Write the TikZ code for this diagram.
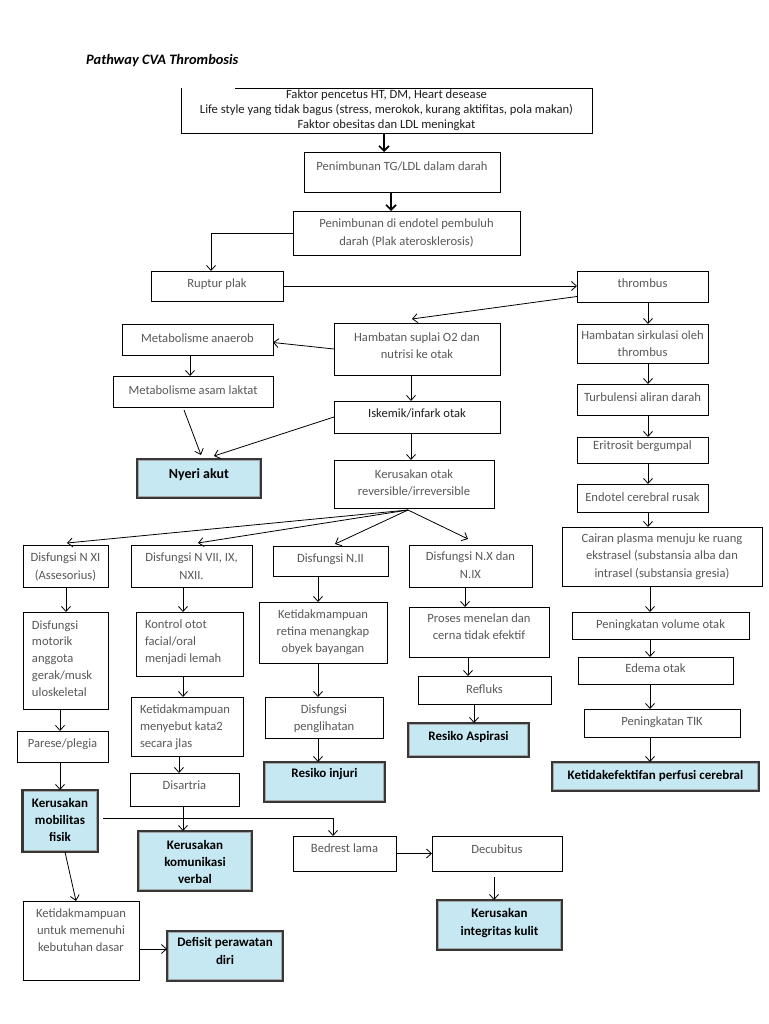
\documentclass[tikz,border=0pt]{standalone}
\usepackage{fontspec}
\setmainfont{Carlito}
\usetikzlibrary{arrows.meta,calc}
\definecolor{txtgray}{RGB}{89,89,89}
\definecolor{txtdark}{RGB}{30,30,30}
\definecolor{bluefill}{RGB}{198,232,242}
\definecolor{blueedge}{RGB}{55,55,55}
\def\boxalign{\centering}
\def\bfs{12.6}
\tikzset{
  boxbase/.style={rectangle, inner sep=0pt, outer sep=0pt, draw=black, line width=0.8pt, fill=white, text=txtgray},
  bluebox/.style={boxbase, fill=bluefill, draw=blueedge, line width=1.6pt, text=black, font=\bfseries,
    execute at begin node={\def\bfs{13}},
    path picture={\draw[black!35, line width=1.2pt] ([shift={(1.6pt,-1.6pt)}]path picture bounding box.north west) rectangle ([shift={(-1.6pt,1.6pt)}]path picture bounding box.south east);}},
  bigbold/.style={bluebox, execute at begin node={\def\bfs{14}}},
  leftal/.style={execute at begin node={\def\boxalign{\raggedright\leftskip=9pt\relax}}},
  nodraw/.style={draw=none},
  arr/.style={draw=black, line width=0.8pt, -{Straight Barb[length=5pt,width=9pt]}},
  bigarr/.style={draw=black, line width=2pt, -{Straight Barb[length=5pt,width=10pt,line width=1.6pt]}}
}
% opts, name, x1, y1, x2, y2, first baseline, baselineskip, text
\newcommand{\mybox}[9][]{%
  \pgfmathsetmacro\bw{#5-#3}%
  \pgfmathsetmacro\bh{#6-#4}%
  \pgfmathsetmacro\bpad{#7-#4-0.7*#8}%
  \node[boxbase,#1] (#2) at ({(#3+#5)/2},{(#4+#6)/2}) {\begin{minipage}[c][\bh pt][t]{\bw pt}\fontsize{\bfs}{#8}\selectfont\vspace*{\bpad pt}\boxalign\strut #9\end{minipage}};}
\begin{document}
\begin{tikzpicture}[x=1pt,y=-1pt]
\useasboundingbox (0,0) rectangle (768,1024);
\fill[white] (0,0) rectangle (768,1024);

\node[font=\fontsize{14.4}{17}\selectfont\bfseries\itshape, anchor=base west, inner sep=0pt] (title) at (86,65) {Pathway CVA Thrombosis};

\mybox[nodraw,text=txtdark]{fk}{181}{88}{592}{133}{99}{15}{Faktor pencetus HT, DM, Heart desease\\Life style yang tidak bagus (stress, merokok, kurang aktifitas, pola makan)\\Faktor obesitas dan LDL meningkat}
\draw[line width=0.8pt] ([xshift=54pt]fk.north west) -- (fk.north east) -- (fk.south east) -- (fk.south west) -- (fk.north west);

\mybox{tg}{304}{152}{500}{192}{171}{17}{Penimbunan TG/LDL dalam darah}
\mybox{endo}{293}{211}{520}{255}{227}{18}{Penimbunan di endotel pembuluh\\darah (Plak aterosklerosis)}
\mybox{rup}{151}{271}{283}{301}{287}{17}{Ruptur plak}
\mybox{thr}{577}{271}{708}{302}{287}{17}{thrombus}
\mybox{hsup}{334}{323}{500}{375}{341}{17}{Hambatan suplai O2 dan\\nutrisi ke otak}
\mybox{ma}{122}{324}{273}{355}{342}{17}{Metabolisme anaerob}
\mybox{mal}{113}{376}{273}{407}{394}{17}{Metabolisme asam laktat}
\mybox[text=txtdark]{isk}{334}{401}{500}{433}{417}{17}{Iskemik/infark otak}
\mybox[bigbold]{nyeri}{137}{459}{261}{498}{478}{17}{Nyeri akut}
\mybox{ko}{334}{460}{494}{508}{478}{17}{Kerusakan otak\\reversible/irreversible}
\mybox{n11}{23}{545}{108}{587}{561}{18}{Disfungsi N XI\\(Assesorius)}
\mybox{n7}{131}{545}{252}{587}{561}{18}{Disfungsi N VII, IX,\\NXII.}
\mybox{n2}{273}{546}{388}{576}{562}{17}{Disfungsi N.II}
\mybox{n10}{409}{545}{532}{587}{560}{18}{Disfungsi N.X dan\\N.IX}
\mybox[leftal]{dm}{23}{612}{108}{709}{629}{16.8}{Disfungsi\\motorik\\anggota\\gerak/musk\\uloskeletal}
\mybox{pp}{17}{731}{108}{762}{747}{17}{Parese/plegia}
\mybox[bluebox]{kmf}{22}{790}{98}{852}{807}{17}{Kerusakan\\mobilitas\\fisik}
\draw[blueedge, line width=3pt] ([xshift=0.5pt,yshift=0.8pt]kmf.south west) -- ([xshift=0.5pt,yshift=-0.8pt]kmf.north west);
\mybox{ktd}{23}{901}{139}{980}{917}{17}{Ketidakmampuan\\untuk memenuhi\\kebutuhan dasar}
\mybox[bluebox]{dpd}{167}{931}{283}{981}{946}{18}{Defisit perawatan\\diri}
\mybox[leftal]{kon}{136}{612}{243}{676}{628}{17}{Kontrol otot\\facial/oral\\menjadi lemah}
\mybox[leftal]{kms}{131}{697}{243}{756}{713}{17}{Ketidakmampuan\\menyebut kata2\\secara jlas}
\mybox{dis}{130}{773}{239}{806}{789}{17}{Disartria}
\mybox[bluebox]{kkv}{138}{831}{252}{891}{849}{17}{Kerusakan\\komunikasi\\verbal}
\mybox{kr}{259}{602}{387}{663}{618}{17}{Ketidakmampuan\\retina menangkap\\obyek bayangan}
\mybox{dp}{265}{697}{383}{738}{713}{17}{Disfungsi\\penglihatan}
\mybox[bluebox]{ri}{264}{762}{385}{802}{777}{17}{Resiko injuri}
\mybox{pm}{409}{607}{549}{657}{622}{17}{Proses menelan dan\\cerna tidak efektif}
\mybox{ref}{418}{676}{551}{704}{693}{17}{Refluks}
\mybox[bluebox]{ra}{408}{723}{529}{757}{740}{17}{Resiko Aspirasi}
\mybox{hs}{577}{324}{708}{363}{339}{17}{Hambatan sirkulasi oleh\\thrombus}
\mybox{tur}{577}{384}{708}{415}{401}{17}{Turbulensi aliran darah}
\mybox{eri}{577}{437}{708}{463}{449}{17}{Eritrosit bergumpal}
\mybox{ecr}{577}{484}{708}{512}{501}{17}{Endotel cerebral rusak}
\mybox{cp}{562}{527}{762}{586}{542}{17.5}{Cairan plasma menuju ke ruang\\ekstrasel (substansia alba dan\\intrasel (substansia gresia)}
\mybox{pvo}{572}{612}{749}{639}{628}{17}{Peningkatan volume otak}
\mybox{edo}{578}{657}{733}{684}{672}{17}{Edema otak}
\mybox{tik}{584}{709}{740}{737}{725}{17}{Peningkatan TIK}
\mybox[bluebox]{kpc}{552}{762}{759}{791}{779}{17}{Ketidakefektifan perfusi cerebral}
\mybox{bed}{293}{836}{396}{871}{852}{17}{Bedrest lama}
\mybox{dec}{432}{836}{562}{871}{853}{17}{Decubitus}
\mybox[bluebox]{kik}{437}{900}{562}{950}{917}{18}{Kerusakan\\integritas kulit}

% connectors
\draw[bigarr] ([xshift=203pt]fk.south west) -- ([xshift=80pt]tg.north west);
\draw[bigarr] ([xshift=87pt]tg.south west) -- ([xshift=98pt]endo.north west);
\draw[arr] (endo.west) -| ([xshift=60pt]rup.north west);
\draw[arr] (rup.east) -- (rup.east -| thr.west);
\draw[arr] ([yshift=-10pt]thr.west) -- ([xshift=78pt,yshift=4pt]hsup.north west);
\draw[arr] (hsup.west) -- ([yshift=-3pt]ma.east);
\draw[arr] ([xshift=68pt]ma.south west) -- ([xshift=77pt]mal.north west);
\draw[arr] ([xshift=77pt]hsup.south west) -- ([xshift=77pt]isk.north west);
\draw[arr] (isk.west) -- ([xshift=77pt,yshift=3pt]nyeri.north west);
\draw[arr] ([xshift=71pt,yshift=-3pt]mal.south west) -- ([xshift=64pt,yshift=4pt]nyeri.north west);
\draw[arr] ([xshift=77pt]isk.south west) -- ([xshift=77pt]ko.north west);
\coordinate (kob) at ([xshift=74pt,yshift=-2pt]ko.south west);
\draw[arr] (kob) -- ([xshift=44pt,yshift=2pt]n11.north west);
\draw[arr] (kob) -- ([xshift=67pt,yshift=2pt]n7.north west);
\draw[arr] (kob) -- ([xshift=62pt,yshift=2pt]n2.north west);
\draw[arr] (kob) -- ([xshift=59pt,yshift=6pt]n10.north west);

\draw[arr] ([xshift=43pt]n11.south west) -- ([xshift=43pt]dm.north west);
\draw[arr] ([xshift=37pt]dm.south west) -- ([xshift=43pt]pp.north west);
\draw[arr] ([xshift=43pt]pp.south west) -- ([xshift=38pt]kmf.north west);
\coordinate (kme) at ([xshift=5pt,yshift=3pt]kmf.east);
\draw[arr] (kme) -| ([xshift=40pt]bed.north west);
\draw[arr] ([xshift=43pt]kmf.south west) -- ([xshift=53pt]ktd.north west);
\coordinate (ktde) at ([yshift=-8.5pt]ktd.east);
\draw[arr] (ktde) -- (ktde -| dpd.west);

\draw[arr] ([xshift=52pt]n7.south west) -- ([xshift=47pt]kon.north west);
\draw[arr] ([xshift=47pt]kon.south west) -- ([xshift=52pt]kms.north west);
\draw[arr] ([xshift=48pt]kms.south west) -- ([xshift=49pt]dis.north west);
\draw[arr] ([xshift=53pt]dis.south west) -- ([xshift=45pt]kkv.north west);

\draw[arr] ([xshift=45pt]n2.south west) -- ([xshift=59pt]kr.north west);
\draw[arr] ([xshift=59pt]kr.south west) -- ([xshift=53pt]dp.north west);
\draw[arr] ([xshift=53pt]dp.south west) -- ([xshift=54pt]ri.north west);

\draw[arr] ([xshift=56pt]n10.south west) -- ([xshift=56pt]pm.north west);
\draw[arr] ([xshift=59pt]pm.south west) -- ([xshift=50pt]ref.north west);
\draw[arr] ([xshift=56pt]ref.south west) -- ([xshift=66pt]ra.north west);

\draw[arr] ([xshift=71pt]thr.south west) -- ([xshift=71pt]hs.north west);
\draw[arr] ([xshift=71pt]hs.south west) -- ([xshift=71pt]tur.north west);
\draw[arr] ([xshift=71pt]tur.south west) -- ([xshift=71pt]eri.north west);
\draw[arr] ([xshift=71pt]eri.south west) -- ([xshift=71pt]ecr.north west);
\draw[arr] ([xshift=71pt]ecr.south west) -- ([xshift=86pt]cp.north west);
\draw[arr] ([xshift=88pt]cp.south west) -- ([xshift=78pt]pvo.north west);
\draw[arr] ([xshift=78pt]pvo.south west) -- ([xshift=72pt]edo.north west);
\draw[arr] ([xshift=72pt]edo.south west) -- ([xshift=66pt]tik.north west);
\draw[arr] ([xshift=66pt]tik.south west) -- ([xshift=98pt]kpc.north west);

\draw[arr] (bed.east) -- (bed.east -| dec.west);
\draw[arr] ([xshift=62pt,yshift=-6pt]dec.south west) -- ([xshift=57pt]kik.north west);
\end{tikzpicture}
\end{document}
